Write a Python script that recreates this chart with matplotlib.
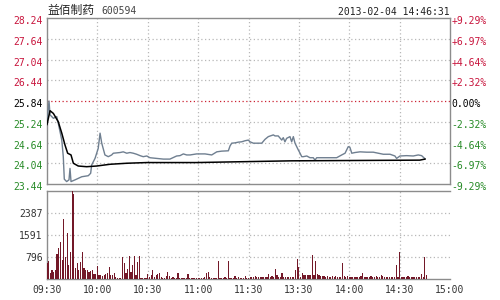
import matplotlib
matplotlib.use("Agg")
import matplotlib.pyplot as plt
from matplotlib.transforms import ScaledTranslation

plt.rcParams['font.family'] = ['DejaVu Sans Mono', 'Noto Sans CJK SC']

# ---------------- data ----------------
title_name = "益佰制药"
title_code = "600594"
timestamp = "2013-02-04 14:46:31"
prev_close = 25.84

price_ticks = [23.44, 24.04, 24.64, 25.24, 25.84, 26.44, 27.04, 27.64, 28.24]
pct_labels = ['-9.29%', '-6.97%', '-4.64%', '-2.32%', '0.00%',
              '+2.32%', '+4.64%', '+6.97%', '+9.29%']
time_ticks = [0, 30, 60, 90, 120, 150, 180, 210, 240]
time_labels = ['09:30', '10:00', '10:30', '11:00', '11:30',
               '13:30', '14:00', '14:30', '15:00']
vol_ticks = [796, 1591, 2387]
vol_max = 3184

# price line vertices (minute index, price)
price_min = [0, 1.2, 1.8, 3.8, 5.8, 6.7, 8.8, 9.7, 10.3, 11.7, 13.1, 13.7, 14.3,
             16.7, 20.7, 24.6, 26.0, 26.6, 28.6, 30.5, 31.6, 32.6, 34.5, 36.5,
             38.5, 39.5, 43.5, 45.4, 47.5, 49.4, 51.4, 53.4, 55.4, 57.3, 59.4,
             61.3, 65.3, 69.3, 73.2, 77.2, 79.2, 81.2, 83.2, 85.2, 89.1, 94.1,
             98.1, 101.1, 104.0, 108.0, 109.0, 110.0, 112.0, 113.9, 115.9, 117.9,
             119.9, 120.9, 122.9, 127.9, 129.8, 131.8, 134.8, 135.8, 137.7, 139.8,
             140.7, 141.7, 142.7, 144.7, 145.7, 146.7, 147.7, 149.7, 150.7, 151.7,
             152.6, 154.7, 156.6, 158.6, 159.6, 160.6, 166.6, 172.5, 175.5, 177.5,
             179.4, 180.4, 181.5, 183.4, 186.4, 190.4, 194.3, 197.3, 200.3, 204.3,
             207.2, 208.2, 210.2, 214.2, 218.1, 221.1, 223.1, 225.1]
price_val = [25.20, 25.84, 25.44, 25.34, 25.39, 25.20, 24.71, 24.23, 23.58, 23.51,
             23.56, 23.89, 23.51, 23.56, 23.65, 23.68, 23.75, 23.99, 24.18, 24.47,
             24.91, 24.62, 24.28, 24.23, 24.28, 24.33, 24.35, 24.37, 24.33, 24.35,
             24.33, 24.30, 24.26, 24.23, 24.25, 24.20, 24.18, 24.16, 24.16, 24.25,
             24.26, 24.31, 24.28, 24.28, 24.31, 24.31, 24.28, 24.37, 24.39, 24.40,
             24.54, 24.62, 24.63, 24.65, 24.66, 24.69, 24.71, 24.66, 24.62, 24.62,
             24.73, 24.81, 24.86, 24.83, 24.83, 24.71, 24.78, 24.66, 24.76, 24.81,
             24.66, 24.81, 24.62, 24.42, 24.33, 24.23, 24.23, 24.25, 24.20, 24.20,
             24.13, 24.20, 24.20, 24.20, 24.28, 24.33, 24.52, 24.50, 24.33, 24.35,
             24.37, 24.36, 24.36, 24.33, 24.30, 24.30, 24.25, 24.18, 24.25, 24.26,
             24.25, 24.28, 24.26, 24.17]

# average price line vertices
avg_min = [0, 1.8, 3.8, 6.7, 8.8, 10.7, 12.3, 14.3, 15.7, 18.6, 23.6, 29.6, 37.5,
           47.5, 59.4, 89.1, 111.0, 145.7, 222.0, 225.1]
avg_val = [25.16, 25.56, 25.48, 25.24, 24.91, 24.57, 24.33, 24.28, 24.04, 23.96,
           23.94, 23.96, 24.01, 24.04, 24.06, 24.06, 24.08, 24.11, 24.13, 24.16]

# per-minute volume
volumes = [590, 651, 205, 326, 241, 326, 892, 1110, 1351, 687, 2159, 784, 1652, 506,
           989, 3184, 3075, 386, 567, 326, 627, 989, 410, 326, 314, 241, 289, 326,
           169, 169, 482, 145, 145, 121, 145, 169, 205, 446, 145, 145, 205, 84, 24,
           24, 48, 808, 590, 205, 362, 832, 265, 506, 844, 145, 603, 844, 24, 24,
           24, 24, 169,
           84, 145, 326, 84, 145, 169, 205, 84, 48, 48, 121, 241, 121, 48, 84, 48,
           48, 205, 48, 48, 24, 48, 24, 169, 48, 24, 24, 24, 24, 24, 24, 24, 48, 84,
           205, 241, 84, 24, 48, 48, 48, 651, 24, 48, 24, 84, 24, 651, 24, 48, 48,
           121, 24, 84, 24, 24, 24, 121, 24, 24,
           60, 60, 84, 108, 60, 60, 84, 60, 84, 60, 84, 181, 84, 108, 84, 350, 145,
           84, 60, 205, 60, 84, 60, 60, 84, 60, 84, 326, 724, 446, 84, 205, 145, 145,
           145, 145, 145, 868, 145, 651, 169, 145, 108, 108, 108, 84, 108, 84, 60,
           108, 84, 108, 60, 84, 60, 591, 108, 60, 108, 60, 84, 60, 84, 60, 84, 60,
           108, 205, 84, 60, 84, 60, 108, 60, 84, 108, 60, 84, 145, 108, 84, 60, 84,
           60, 60, 84, 60, 506, 60, 989, 84, 60, 60, 84, 108, 84, 60, 84, 60, 60, 84,
           60, 169, 84, 784, 145]

# ---------------- styling ----------------
RED = '#c8143c'
GREEN = '#268a26'
GRID = '#b8b8b8'
SPINE = '#8c8c8c'
LINE = '#6f7f90'
BAR = '#731828'

fig = plt.figure(figsize=(5, 3), dpi=100)
W, H = 500, 300
def rect(l, t, r, b):
    return [l / W, 1 - b / H, (r - l) / W, (b - t) / H]

ax = fig.add_axes(rect(47, 18, 450, 184))
axv = fig.add_axes(rect(47, 191, 450, 279))

# price panel
ax.set_xlim(0, 240)
ax.set_ylim(price_ticks[0], price_ticks[-1])
ax.set_yticks(price_ticks)
ax.set_yticklabels([f"{v:.2f}" for v in price_ticks])
ax.set_xticks(time_ticks)
ax.tick_params(axis='x', labelbottom=False, length=0)
ax.tick_params(axis='y', length=0, pad=3, labelsize=7)
for lab, v in zip(ax.get_yticklabels(), price_ticks):
    lab.set_color(RED if v > prev_close + 1e-9 else (GREEN if v < prev_close - 1e-9 else 'black'))
    lab.set_transform(lab.get_transform() + ScaledTranslation(0, -2 / 100, fig.dpi_scale_trans))

for v in price_ticks[1:-1]:
    if abs(v - prev_close) < 1e-9:
        ax.axhline(v, color='#cc2233', lw=0.9, ls=(0, (1, 2)), zorder=1)
    else:
        ax.axhline(v, color=GRID, lw=0.9, ls=(0, (1, 2)), zorder=1)
for t in time_ticks[1:-1]:
    ax.axvline(t, color=GRID, lw=0.9, ls=(0, (1, 2)), zorder=1)

ax.plot(price_min, price_val, color=LINE, lw=1.0, zorder=3)
ax.plot(avg_min, avg_val, color='black', lw=1.1, zorder=4)

for s in ax.spines.values():
    s.set_color(SPINE)
    s.set_linewidth(1.0)

ax2 = ax.twinx()
ax2.set_ylim(price_ticks[0], price_ticks[-1])
ax2.set_yticks(price_ticks)
ax2.set_yticklabels(pct_labels)
ax2.tick_params(axis='y', length=0, pad=1, labelsize=7)
for lab, v in zip(ax2.get_yticklabels(), price_ticks):
    lab.set_color(RED if v > prev_close + 1e-9 else (GREEN if v < prev_close - 1e-9 else 'black'))
    lab.set_transform(lab.get_transform() + ScaledTranslation(0, -2 / 100, fig.dpi_scale_trans))
for s in ax2.spines.values():
    s.set_visible(False)

# volume panel
minutes = list(range(len(volumes)))
axv.bar(minutes, volumes, width=0.7, color=BAR, linewidth=0, zorder=3)
axv.set_xlim(0, 240)
axv.set_ylim(0, vol_max)
axv.set_yticks(vol_ticks)
axv.set_yticklabels([str(v) for v in vol_ticks])
axv.set_xticks(time_ticks)
axv.set_xticklabels(time_labels)
axv.tick_params(axis='both', length=0, labelsize=7, colors='#333333')
axv.tick_params(axis='x', pad=4)
axv.tick_params(axis='y', pad=3)
for v in vol_ticks:
    axv.axhline(v, color=GRID, lw=0.9, ls=(0, (1, 2)), zorder=1)
for t in time_ticks[1:-1]:
    axv.axvline(t, color=GRID, lw=0.9, ls=(0, (1, 2)), zorder=1)
for name, s in axv.spines.items():
    s.set_color(SPINE)
    s.set_linewidth(1.0)
axv.spines['right'].set_visible(False)

# header texts
fig.text(47 / W, 1 - 10 / H, title_name, fontsize=8.5, color='#222222',
         family=['Noto Sans CJK SC', 'DejaVu Sans'], va='center', ha='left')
fig.text(101 / W, 1 - 11 / H, title_code, fontsize=7, color='#444444',
         va='center', ha='left')
fig.text(450 / W, 1 - 12 / H, timestamp, fontsize=7, color='#222222',
         va='center', ha='right')

fig.savefig("out.png", dpi=100)
